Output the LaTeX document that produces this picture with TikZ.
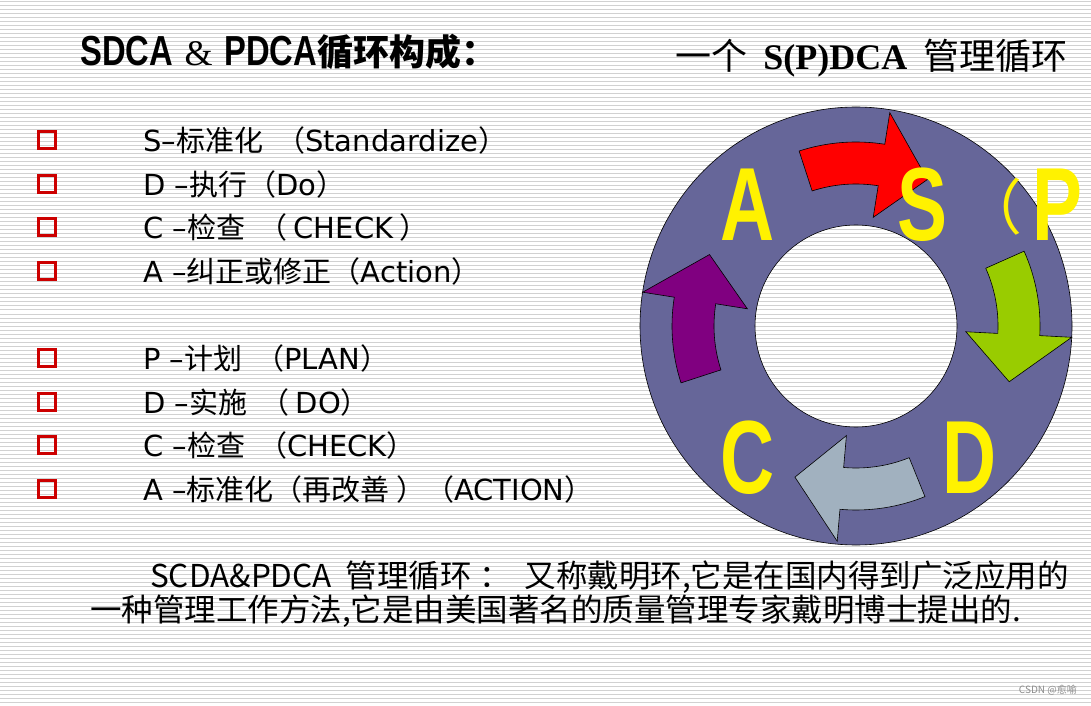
\documentclass[tikz,border=0pt]{standalone}
\usepackage{fontspec}
\setmainfont{Liberation Serif}
\newfontfamily\cjk{Noto Sans CJK SC}
\newfontfamily\lsans{Liberation Sans}
\newfontfamily\dsans{DejaVu Sans}
\definecolor{ring}{HTML}{666699}
\definecolor{bx}{HTML}{CC0000}
\definecolor{grn}{HTML}{99CC00}
\definecolor{gry}{HTML}{A1B1BF}
\definecolor{prp}{HTML}{800080}
\newcommand{\V}[1]{{\dsans #1}}
\tikzset{
  bigl/.style={text=yellow,font=\lsans\bfseries\fontsize{104}{104}\selectfont,xscale=0.72,inner sep=0},
  bullet/.style={draw=bx,line width=2.2pt,minimum size=17pt,inner sep=0},
  item/.style={anchor=west,font=\cjk\fontsize{29}{29}\selectfont,inner sep=0},
  para/.style={anchor=west,font=\cjk\fontsize{31.5}{31.5}\selectfont,inner sep=0},
  arr/.style={draw=black,line width=0.6pt}
}
\newcommand{\curvarrow}[2]{%
  \pgfmathsetmacro{\aa}{#1}\pgfmathsetmacro{\ab}{#1-27}\pgfmathsetmacro{\ac}{#1-44}%
  \filldraw[arr,fill=#2] ($(C)+(\aa:184)$) arc[start angle=\aa,end angle=\ab,radius=184]
   -- ($(C)+(\ab:216)$) -- ($(C)+(\ac:163)$) -- ($(C)+(\ab:110)$) -- ($(C)+(\ab:142)$)
   arc[start angle=\ab,end angle=\aa,radius=142] -- cycle;}
\usetikzlibrary{calc}
\begin{document}
\begin{tikzpicture}[x=1pt,y=1pt]
\useasboundingbox (0,0) rectangle (1091,705);
\fill[white] (0,0) rectangle (1091,705);
\foreach \k in {0,...,176} {\draw[black!18,line width=1pt] (0,{705-2-4*\k}) -- (1091,{705-2-4*\k});}
\coordinate (C) at (856,379);
\filldraw[fill=ring,draw=black,line width=0.6pt,even odd rule] (C) ellipse[x radius=216,y radius=219] (C) circle[radius=101];
\fill[white] (C) circle[radius=100];
\begin{scope}
\clip (C) circle[radius=100];
\foreach \k in {0,...,176} {\draw[black!18,line width=1pt] (0,{705-2-4*\k}) -- (1091,{705-2-4*\k});}
\end{scope}
\curvarrow{108}{red}
\curvarrow{24}{grn}
\curvarrow{-68}{gry}
\curvarrow{-162}{prp}
\node[bigl] (A) at (748,500) {A};
\node[bigl] (S) at (922,500) {S};
\node[text=yellow,font=\cjk\fontsize{60}{60}\selectfont,inner sep=0] (lp) at (992,498) {（};
\node[bigl] (P) at (1057,500) {P};
\node[bigl] (Cc) at (748,247) {C};
\node[bigl] (D) at (970,247) {D};
\node[anchor=west,inner sep=0] (t1) at (80,653) {\lsans\bfseries\fontsize{42}{42}\selectfont\scalebox{0.78}[1]{SDCA} {\fontsize{36}{36}\selectfont\mdseries\rmfamily\&} \scalebox{0.78}[1]{PDCA}\cjk\fontsize{36}{36}\selectfont 循环构成：};
\node[anchor=west,inner sep=0] (t2) at (675,647) {\cjk\fontsize{36}{36}\selectfont 一个\ \ {\rmfamily\bfseries\fontsize{36}{36}\selectfont S(P)DCA}\ \ 管理循环};
\foreach \y/\n in {140/1,184/2,227/3,271/4,358/5,402/6,445/7,489/8} {\node[bullet] (b\n) at (47,705-\y) {};}
\node[item] (i1) at (143,565) {\V{S–}标准化\ \ （\V{Standardize}）};
\node[item] (i2) at (143,521) {\V{D –}执行（\V{Do}）};
\node[item] (i3) at (143,478) {\V{C –}检查\ \ （ \V{CHECK} ）};
\node[item] (i4) at (143,434) {\V{A –}纠正或修正（\V{Action}）};
\node[item] (i5) at (143,347) {\V{P –}计划\ \ （\V{PLAN}）};
\node[item] (i6) at (143,303) {\V{D –}实施\ \ （ \V{DO}）};
\node[item] (i7) at (143,260) {\V{C –}检查\ \ （\V{CHECK}）};
\node[item] (i8) at (143,216) {\V{A –}标准化（再改善\ ）（\V{ACTION}）};
\node[para] (p1) at (150,128) {SCDA\&PDCA\ \ 管理循环 ：\ \ 又称戴明环,它是在国内得到广泛应用的};
\node[para] (p2) at (90,94) {一种管理工作方法,它是由美国著名的质量管理专家戴明博士提出的.};
\node[anchor=east,text=black!45,font=\cjk\fontsize{10}{10}\selectfont,inner sep=0] (wm) at (1077,15) {CSDN @愈喻};
\end{tikzpicture}
\end{document}
